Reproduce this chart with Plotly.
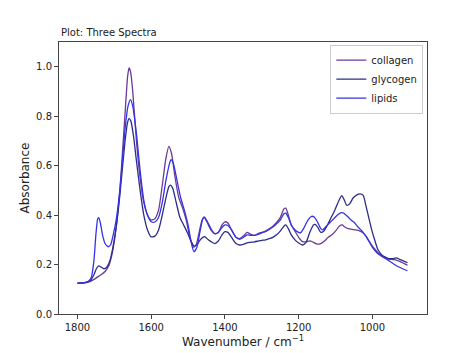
import plotly.graph_objects as go

# ---- data ----
collagen_wn = [1800, 1780, 1765, 1755, 1745, 1735, 1725, 1715, 1705, 1695, 1685, 1678, 1670, 1664, 1660, 1656,
               1650, 1640, 1630, 1620, 1610, 1600, 1590, 1580, 1570, 1560, 1552, 1545, 1535, 1525, 1515, 1505,
               1495, 1485, 1478, 1470, 1462, 1456, 1448, 1438, 1428, 1418, 1408, 1400, 1392, 1382, 1370, 1360,
               1350, 1340, 1330, 1320, 1310, 1300, 1290, 1280, 1270, 1260, 1250, 1240, 1235, 1228, 1220, 1210,
               1200, 1190, 1180, 1170, 1160, 1150, 1140, 1130, 1120, 1110, 1100, 1090, 1082, 1075, 1065, 1055,
               1045, 1035, 1025, 1015, 1005, 995, 985, 975, 965, 955, 945, 935, 925, 915, 905]
collagen_abs = [0.125, 0.126, 0.132, 0.140, 0.150, 0.160, 0.172, 0.195, 0.25, 0.35, 0.50, 0.65, 0.83, 0.96, 0.995, 0.98,
                0.90, 0.70, 0.55, 0.45, 0.40, 0.38, 0.385, 0.42, 0.52, 0.63, 0.678, 0.65, 0.55, 0.47, 0.43, 0.38,
                0.31, 0.27, 0.28, 0.33, 0.38, 0.39, 0.37, 0.34, 0.325, 0.33, 0.36, 0.373, 0.368, 0.34, 0.31, 0.305,
                0.315, 0.33, 0.322, 0.318, 0.325, 0.33, 0.335, 0.345, 0.355, 0.37, 0.39, 0.425, 0.428, 0.40, 0.36, 0.335,
                0.31, 0.293, 0.292, 0.296, 0.29, 0.283, 0.285, 0.295, 0.31, 0.32, 0.335, 0.355, 0.36, 0.352, 0.345, 0.342,
                0.34, 0.336, 0.328, 0.31, 0.285, 0.265, 0.248, 0.235, 0.226, 0.222, 0.22, 0.218, 0.212, 0.205, 0.198]

glycogen_wn = [1800, 1780, 1765, 1755, 1748, 1742, 1736, 1728, 1720, 1712, 1705, 1695, 1685, 1678, 1670, 1664,
               1660, 1655, 1648, 1640, 1630, 1620, 1610, 1600, 1590, 1580, 1570, 1560, 1552, 1548, 1542, 1532,
               1522, 1512, 1502, 1492, 1484, 1476, 1468, 1460, 1455, 1445, 1435, 1428, 1418, 1408, 1400, 1392,
               1382, 1370, 1360, 1350, 1340, 1330, 1320, 1310, 1300, 1290, 1280, 1270, 1260, 1250, 1240, 1235,
               1228, 1220, 1210, 1200, 1190, 1180, 1170, 1160, 1155, 1148, 1140, 1132, 1122, 1112, 1102, 1092,
               1083, 1076, 1070, 1062, 1052, 1042, 1034, 1025, 1018, 1010, 1002, 994, 985, 975, 965, 955,
               945, 935, 925, 915, 905]
glycogen_abs = [0.125, 0.127, 0.135, 0.16, 0.185, 0.195, 0.19, 0.183, 0.19, 0.215, 0.26, 0.35, 0.48, 0.59, 0.71, 0.775,
                0.79, 0.78, 0.72, 0.62, 0.50, 0.40, 0.34, 0.312, 0.315, 0.34, 0.40, 0.47, 0.515, 0.521, 0.51, 0.45,
                0.39, 0.36, 0.33, 0.295, 0.275, 0.28, 0.298, 0.31, 0.313, 0.30, 0.29, 0.285, 0.295, 0.32, 0.333, 0.33,
                0.31, 0.285, 0.279, 0.282, 0.288, 0.29, 0.292, 0.295, 0.298, 0.30, 0.305, 0.31, 0.32, 0.335, 0.355, 0.36,
                0.345, 0.32, 0.30, 0.287, 0.279, 0.29, 0.33, 0.36, 0.362, 0.35, 0.33, 0.335, 0.36, 0.39, 0.42, 0.455,
                0.479, 0.46, 0.44, 0.445, 0.47, 0.482, 0.486, 0.48, 0.44, 0.39, 0.34, 0.30, 0.26, 0.24, 0.23, 0.224,
                0.224, 0.227, 0.22, 0.214, 0.208]

lipids_wn = [1800, 1780, 1770, 1762, 1755, 1750, 1745, 1742, 1738, 1732, 1725, 1717, 1710, 1703, 1695, 1685,
             1678, 1670, 1663, 1656, 1650, 1640, 1630, 1620, 1610, 1600, 1590, 1580, 1570, 1560, 1550, 1546,
             1540, 1530, 1520, 1510, 1500, 1490, 1484, 1476, 1468, 1460, 1456, 1448, 1438, 1428, 1418, 1408,
             1400, 1392, 1382, 1370, 1360, 1350, 1340, 1330, 1320, 1310, 1300, 1290, 1280, 1270, 1260, 1250,
             1240, 1235, 1228, 1220, 1210, 1200, 1195, 1185, 1175, 1165, 1158, 1150, 1140, 1135, 1125, 1115,
             1105, 1095, 1085, 1078, 1068, 1058, 1048, 1038, 1028, 1018, 1008, 998, 988, 978, 968, 958,
             948, 938, 928, 918, 905]
lipids_abs = [0.125, 0.127, 0.132, 0.15, 0.22, 0.32, 0.385, 0.39, 0.37, 0.32, 0.285, 0.272, 0.28, 0.32, 0.38, 0.50,
              0.62, 0.76, 0.84, 0.867, 0.84, 0.73, 0.58, 0.46, 0.40, 0.373, 0.372, 0.39, 0.45, 0.54, 0.61, 0.624,
              0.61, 0.54, 0.47, 0.42, 0.36, 0.28, 0.252, 0.27, 0.33, 0.385, 0.393, 0.375, 0.345, 0.325, 0.33, 0.35,
              0.36, 0.358, 0.34, 0.31, 0.302, 0.31, 0.32, 0.318, 0.318, 0.322, 0.328, 0.333, 0.342, 0.352, 0.365, 0.38,
              0.405, 0.408, 0.39, 0.36, 0.34, 0.33, 0.328, 0.35, 0.38, 0.395, 0.392, 0.375, 0.345, 0.34, 0.355, 0.37,
              0.385, 0.40, 0.41, 0.408, 0.395, 0.38, 0.368, 0.35, 0.335, 0.315, 0.29, 0.265, 0.248, 0.237, 0.228, 0.218,
              0.208, 0.198, 0.19, 0.183, 0.175]

x_ticks = [1800, 1600, 1400, 1200, 1000]
y_ticks = [0.0, 0.2, 0.4, 0.6, 0.8, 1.0]

series = [
    ("collagen", collagen_wn, collagen_abs, "#6a3a96"),
    ("glycogen", glycogen_wn, glycogen_abs, "#2c2c8c"),
    ("lipids", lipids_wn, lipids_abs, "#3434e6"),
]

FONT = "DejaVu Sans"
fig = go.Figure()
for name, wn, ab, col in series:
    fig.add_trace(go.Scatter(x=wn, y=ab, mode="lines", name=name,
                             line=dict(color=col, width=1.3, shape="spline", smoothing=0.6)))

axis_common = dict(showgrid=False, zeroline=False, showline=True, linecolor="#444444", linewidth=1,
                   mirror=True, ticks="outside", ticklen=4, tickwidth=1, tickcolor="#444444",
                   tickfont=dict(family=FONT, size=10, color="#222222"))

fig.update_layout(
    width=474, height=353,
    margin=dict(l=59, r=47, t=42, b=39, autoexpand=False),
    paper_bgcolor="white", plot_bgcolor="white",
    font=dict(family=FONT, size=10, color="#222222"),
    xaxis=dict(range=[1850, 852], tickvals=x_ticks, ticktext=[str(v) for v in x_ticks],
               title=dict(text="Wavenumber / cm<sup>−1</sup>", font=dict(family=FONT, size=12), standoff=4),
               **axis_common),
    yaxis=dict(range=[0, 1.1], tickvals=y_ticks, ticktext=[f"{v:.1f}" for v in y_ticks],
               title=dict(text="Absorbance", font=dict(family=FONT, size=12), standoff=3),
               **axis_common),
    legend=dict(x=0.99, y=0.99, xanchor="right", yanchor="top", bgcolor="white",
                bordercolor="#cccccc", borderwidth=1, itemwidth=30, tracegroupgap=0,
                font=dict(family=FONT, size=10, color="#222222")),
    showlegend=True,
)
fig.add_annotation(text="Plot: Three Spectra", xref="paper", yref="paper", x=0, y=1,
                   xanchor="left", yanchor="bottom", yshift=2, showarrow=False,
                   font=dict(family=FONT, size=10, color="#222222"))

fig.write_html("out.html")
